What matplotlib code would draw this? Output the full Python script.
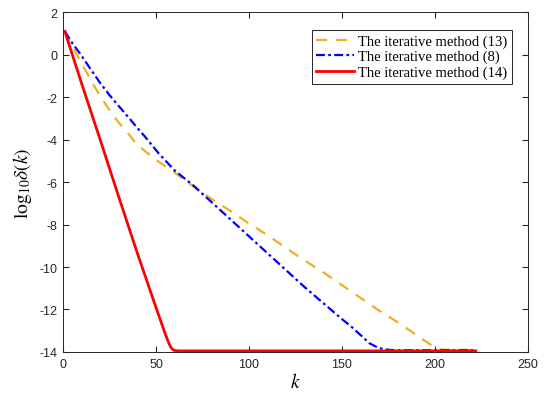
import matplotlib
matplotlib.use("Agg")
import matplotlib.pyplot as plt

plt.rcParams["font.family"] = ["Liberation Sans", "DejaVu Sans"]
plt.rcParams["mathtext.fontset"] = "stix"
plt.rcParams["axes.unicode_minus"] = False

# values
k_13 = [1, 5, 10, 15, 20, 25, 30, 35, 40, 45, 50, 60, 70, 80, 90, 100, 110, 120, 130,
        140, 150, 160, 170, 180, 190, 195, 200, 203, 206, 222]
d_13 = [1.1, 0.4, -0.4, -1.2, -1.95, -2.6, -3.2, -3.7, -4.25, -4.6, -4.95, -5.55,
        -6.2, -6.8, -7.35, -7.95, -8.5, -9.1, -9.7, -10.25, -10.85, -11.45, -12.05,
        -12.6, -13.2, -13.5, -13.78, -13.88, -13.9, -13.9]
k_8 = [1, 5, 10, 15, 20, 25, 30, 36, 40, 45, 51, 60, 70, 80, 90, 100, 110, 120,
       130, 140, 150, 155, 160, 165, 170, 175, 180, 222]
d_8 = [1.1, 0.55, -0.05, -0.7, -1.33, -1.9, -2.42, -3.03, -3.45, -3.95, -4.6, -5.45,
       -6.15, -6.95, -7.75, -8.55, -9.35, -10.15, -10.95, -11.7, -12.45, -12.8, -13.2,
       -13.6, -13.82, -13.9, -13.92, -13.92]
k_14 = [1, 10, 20, 30, 40, 50, 55, 57, 58, 59, 60, 62, 222]
d_14 = [1.1, -1.35, -4.0, -6.7, -9.35, -11.9, -13.15, -13.6, -13.78, -13.88, -13.93,
        -13.95, -13.95]

labels = ["The iterative method (13)", "The iterative method (8)", "The iterative method (14)"]

fig = plt.figure(figsize=(5.55, 4.02), dpi=100)
ax = fig.add_axes([0.1135, 0.122, 0.8375, 0.845])

ax.plot(k_13, d_13, color=(0.929, 0.694, 0.125), lw=1.6, ls=(0, (5, 4)), label=labels[0])
ax.plot(k_8, d_8, color="blue", lw=1.6, ls=(0, (4, 1.5, 1.2, 1.5)), label=labels[1])
ax.plot(k_14, d_14, color="red", lw=2.0, label=labels[2])

ax.set_xlim(0, 250)
ax.set_ylim(-14, 2)
ax.set_xticks([0, 50, 100, 150, 200, 250])
ax.set_yticks(range(-14, 3, 2))
ax.tick_params(direction="in", top=True, right=True, labelsize=9, length=4,
               color="#262626", labelcolor="#262626", pad=4)
for s in ax.spines.values():
    s.set_color("#262626")
    s.set_linewidth(0.7)

ax.set_xlabel(r"$k$", fontsize=14, labelpad=2)
ax.set_ylabel(r"$\mathrm{log}_{10}\delta(k)$", fontsize=14, labelpad=4)

leg = ax.legend(loc="upper right", bbox_to_anchor=(0.9656, 0.948),
                prop={"family": "Liberation Serif", "size": 10.5}, handlelength=2.6,
                handletextpad=0.3, borderpad=0.3, labelspacing=0.15, fancybox=False,
                framealpha=1, borderaxespad=0)
leg.get_frame().set_edgecolor("#262626")
leg.get_frame().set_linewidth(0.7)

fig.savefig("out.png", dpi=100)
